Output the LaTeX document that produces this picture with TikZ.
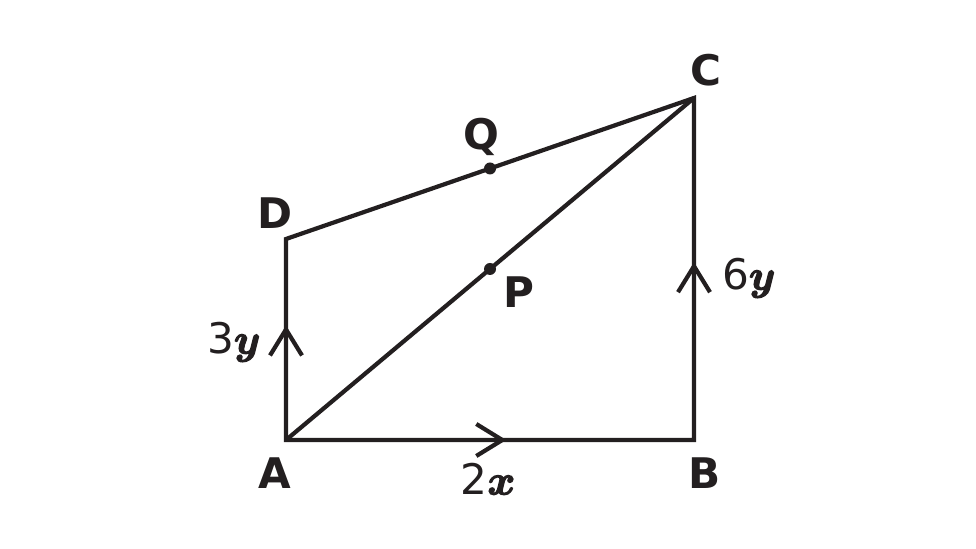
\documentclass[tikz,border=0pt]{standalone}
\usepackage{fontspec}
\setmainfont{DejaVu Sans}
\newfontfamily\mathbi{Latin Modern Math}[FakeBold=3]
\usetikzlibrary{decorations.markings,arrows.meta,calc}

\definecolor{ink}{HTML}{231F20}

\newcommand{\bivar}[1]{{\mathbi\symbol{#1}}}

\tikzset{
	edge/.style={ink,line width=1.2pt,line join=miter},
	midarrow/.style={postaction={decorate},decoration={markings,
		mark=at position #1 with {\arrow{Straight Barb[length=2.6mm,width=3.2mm,line width=1.2pt]}}}},
	lab/.style={text=ink,font=\fontsize{12}{14}\selectfont\bfseries,inner sep=0pt},
	len/.style={text=ink,font=\fontsize{12}{14}\selectfont,inner sep=0pt},
}

\begin{document}
\begin{tikzpicture}
	\useasboundingbox (0,0) rectangle (9.76,5.49);
	
	\coordinate (A) at (2.86,1.09);
	\coordinate (B) at (6.94,1.09);
	\coordinate (C) at (6.94,4.51);
	\coordinate (D) at (2.86,3.10);
	\coordinate (P) at ($(A)!0.5!(C)$);
	\coordinate (Q) at ($(D)!0.5!(C)$);
	
	\draw[edge] (B) -- (C) -- (D) -- (A) -- cycle;
	\draw[edge] (A) -- (C);
	\draw[edge,midarrow=0.57] (A) -- (D);
	\draw[edge,midarrow=0.54] (A) -- (B);
	\draw[edge,midarrow=0.52] (B) -- (C);
	
	\fill[ink] (P) circle (0.06);
	\fill[ink] (Q) circle (0.06);
	
	\node[lab] (labA) at (2.75,0.76) {A};
	\node[lab] (labB) at (7.05,0.76) {B};
	\node[lab] (labC) at (7.06,4.79) {C};
	\node[lab] (labD) at (2.75,3.36) {D};
	\node[lab] (labQ) at (4.81,4.12) {Q};
	\node[lab] (labP) at (5.19,2.57) {P};
	
	\node[len] (lenAD) at (2.33,2.07) {3\bivar{"1D49A}};
	\node[len] (lenAB) at (4.88,0.70) {2\bivar{"1D499}};
	\node[len] (lenBC) at (7.48,2.71) {6\bivar{"1D49A}};
\end{tikzpicture}
\end{document}
